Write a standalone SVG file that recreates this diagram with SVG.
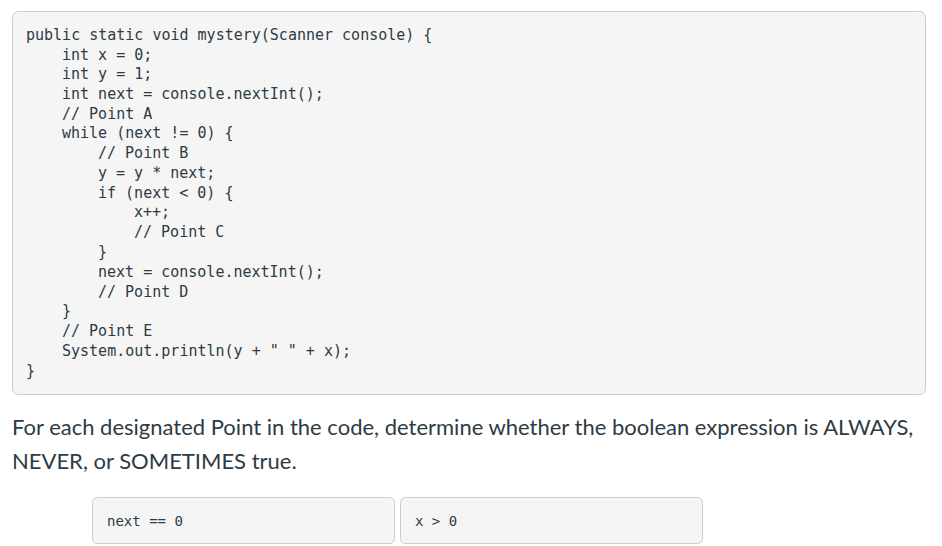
<svg xmlns="http://www.w3.org/2000/svg" width="942" height="546" viewBox="0 0 942 546">
<style>
.c{font-family:"DejaVu Sans Mono","Liberation Mono",monospace;font-size:15px;fill:#2d3b45}
.p{font-family:Lato,"Liberation Sans",sans-serif;font-size:22px;fill:#2d3b45}
.b{fill:#f5f5f5;stroke:#c7cdd1;stroke-width:1}
.s{font-family:"DejaVu Sans Mono","Liberation Mono",monospace;font-size:14px;fill:#2d3b45}
</style>
<rect width="942" height="546" fill="#fff"/>
<rect class="b" x="12.5" y="11.5" width="913" height="383" rx="6"/>
<g class="c">
<text x="26" y="40">public static void mystery(Scanner console) {</text>
<text x="62" y="60">int x = 0;</text>
<text x="62" y="79">int y = 1;</text>
<text x="62" y="99">int next = console.nextInt();</text>
<text x="62" y="119">// Point A</text>
<text x="62" y="138">while (next != 0) {</text>
<text x="98" y="158">// Point B</text>
<text x="98" y="178">y = y * next;</text>
<text x="98" y="198">if (next &lt; 0) {</text>
<text x="134" y="217">x++;</text>
<text x="134" y="237">// Point C</text>
<text x="98" y="257">}</text>
<text x="98" y="277">next = console.nextInt();</text>
<text x="98" y="297">// Point D</text>
<text x="62" y="316">}</text>
<text x="62" y="336">// Point E</text>
<text x="62" y="356" xml:space="preserve">System.out.println(y + " " + x);</text>
<text x="26" y="376">}</text>
</g>
<text class="p" x="12" y="435">For each designated Point in the code, determine whether the boolean expression is ALWAYS,</text>
<text class="p" x="12" y="469">NEVER, or SOMETIMES true.</text>
<rect class="b" x="92.5" y="497.5" width="302" height="46" rx="5"/>
<rect class="b" x="400.5" y="497.5" width="302" height="46" rx="5"/>
<text class="s" x="107" y="526">next == 0</text>
<text class="s" x="415" y="526">x &gt; 0</text>
</svg>
